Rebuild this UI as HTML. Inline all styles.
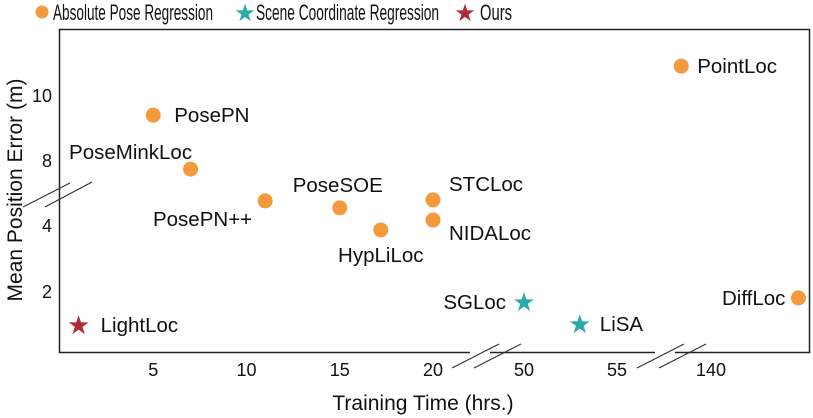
<!DOCTYPE html>
<html><head><meta charset="utf-8"><style>
html,body{margin:0;padding:0;background:#fff;}
svg{display:block;font-family:"Liberation Sans",sans-serif;}
</style></head><body>
<svg id="chart" width="813" height="418" viewBox="0 0 813 418" xmlns="http://www.w3.org/2000/svg">
<g font-size="22" fill="#111">
  <circle cx="42" cy="12" r="6.5" fill="#f5993d"/>
  <text x="53" y="20" textLength="160" lengthAdjust="spacingAndGlyphs">Absolute Pose Regression</text>
  <text x="245" y="21" font-size="24" text-anchor="middle" fill="#2aaaa8" font-family="DejaVu Sans">★</text>
  <text x="256" y="20" textLength="183" lengthAdjust="spacingAndGlyphs">Scene Coordinate Regression</text>
  <text x="465" y="21" font-size="24" text-anchor="middle" fill="#b22a3a" font-family="DejaVu Sans">★</text>
  <text x="480" y="20" textLength="32" lengthAdjust="spacingAndGlyphs">Ours</text>
</g>
<rect x="59.5" y="29.5" width="750" height="323" fill="none" stroke="#222" stroke-width="1.5"/>
<g id="breaks"></g>
<g id="ticks" font-size="18" fill="#111"></g>
<g id="marks"></g>
<text x="423" y="410" font-size="21" text-anchor="middle" fill="#111">Training Time (hrs.)</text>
<text transform="translate(22,190) rotate(-90)" font-size="21" text-anchor="middle" fill="#111">Mean Position Error (m)</text>
</svg>
<script>
const names = ["PosePN","PoseMinkLoc","PosePN++","PoseSOE","HypLiLoc","STCLoc","NIDALoc","PointLoc","DiffLoc","SGLoc","LiSA","LightLoc"];
const kinds = ["apr","apr","apr","apr","apr","apr","apr","apr","apr","scr","scr","ours"];
const times = [5,7,11,15,17.2,20,20,138.4,144.7,50,53,1];
const errors = [9.38,7.72,4.73,4.52,3.85,4.76,4.15,10.89,1.79,1.67,1.0,0.97];
const xTicks = [5,10,15,20,50,55,140];
const yTicks = [2,4,8,10];
const labelDx = [21,-60,-13,-2,0,16,16,16,-13,-18,20,22];
const labelDy = [7,-10,25,-16,32,-9,20,7,7,7,7,7];
const labelAnchor = ["start","middle","end","middle","middle","start","start","start","end","end","start","start"];

function xScale(t){
  if(t<=30) return 60+t*18.65;
  if(t<=100) return 524+(t-50)*18.6;
  return 711+(t-140)*18.6;
}
function yScale(v){
  if(v>=6) return 160-(v-8)*32.5;
  return 291-(v-2)*33;
}
const NS="http://www.w3.org/2000/svg";
const ticksG=document.getElementById('ticks');
xTicks.forEach(t=>{
  const el=document.createElementNS(NS,'text');
  
  
  el.setAttribute('x',xScale(t));el.setAttribute('y',376);el.setAttribute('text-anchor','middle');
  el.textContent=t;ticksG.appendChild(el);
});
yTicks.forEach(v=>{
  const el=document.createElementNS(NS,'text');
  
  
  el.setAttribute('x',52);el.setAttribute('y',yScale(v)+7);el.setAttribute('text-anchor','end');
  el.textContent=v;ticksG.appendChild(el);
});
const br=document.getElementById('breaks');
function brk(x1,y1,x2,y2,name){
  const l=document.createElementNS(NS,'line');
  
  
  l.setAttribute('x1',x1);l.setAttribute('y1',y1);l.setAttribute('x2',x2);l.setAttribute('y2',y2);
  l.setAttribute('stroke','#333');l.setAttribute('stroke-width','1.2');
  br.appendChild(l);
}
brk(23,207,70,183,'y-break-line');
brk(45,207,92,182,'y-break-line');
[452,637].forEach(x=>{
  const p=document.createElementNS(NS,'rect');
  
  
  p.setAttribute('x',x+18);p.setAttribute('y',348);p.setAttribute('width',20);p.setAttribute('height',8);p.setAttribute('fill','#fff');
  br.appendChild(p);
  brk(x,368,x+47,344,'x-break-line');
  brk(x+22,368,x+69,344,'x-break-line');
});
const marks=document.getElementById('marks');
names.forEach((n,i)=>{
  const x=xScale(times[i]),y=yScale(errors[i]);
  let m;
  if(kinds[i]==='apr'){
    m=document.createElementNS(NS,'circle');
    m.setAttribute('cx',x);m.setAttribute('cy',y);m.setAttribute('r',7.5);m.setAttribute('fill','#f5993d');
  } else {
    m=document.createElementNS(NS,'text');
    m.setAttribute('x',x);m.setAttribute('y',y+9);m.setAttribute('text-anchor','middle');
    m.setAttribute('font-size','26');m.setAttribute('font-family','DejaVu Sans');
    m.setAttribute('fill',kinds[i]==='scr'?'#2aaaa8':'#b22a3a');
    m.textContent='★';
  }
  
  
  marks.appendChild(m);
  const t=document.createElementNS(NS,'text');
  
  
  t.setAttribute('x',x+labelDx[i]);t.setAttribute('y',y+labelDy[i]);
  t.setAttribute('text-anchor',labelAnchor[i]);
  t.setAttribute('font-size','20.5');t.setAttribute('fill','#111');
  t.textContent=n;marks.appendChild(t);
});
</script>
</body></html>
